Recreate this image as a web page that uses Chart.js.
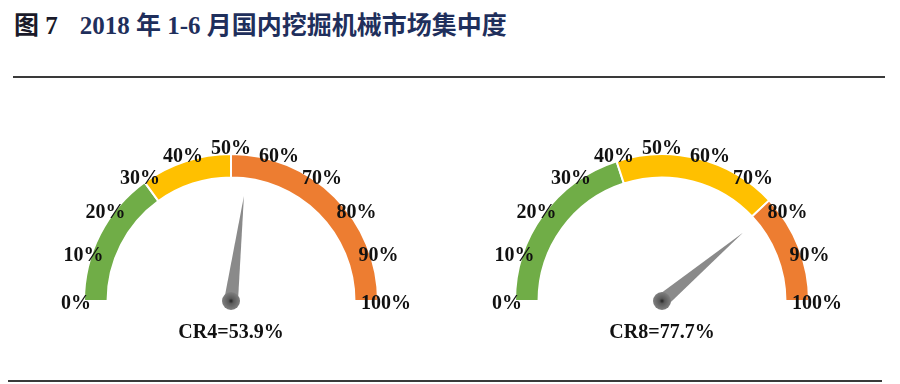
<!DOCTYPE html>
<html>
<head>
<meta charset="utf-8">
<script src="https://cdn.jsdelivr.net/npm/chart.js@4.4.1/dist/chart.umd.min.js"></script>
<style>
  body { margin: 0; background: #fff; width: 900px; height: 384px; position: relative; overflow: hidden; }
  #title { position: absolute; left: 14px; top: 5px; font: bold 25px "Liberation Serif", "Noto Sans CJK SC", serif; color: #1f2f5c; white-space: nowrap; }
  #title .fig { color: #1a1a2a; margin-right: 22px; }
  .rule { position: absolute; height: 2px; background: #3a3a3a; }
  .gauge { position: absolute; }
</style>
</head>
<body>
<div id="title"><span class="fig">图 7</span>2018 年 1-6 月国内挖掘机械市场集中度</div>
<div class="rule" style="left:13px; top:76px; width:872px;"></div>
<div class="rule" style="left:8px; top:380px; width:874px;"></div>
<div class="gauge" style="left:31px; top:130px; width:400px; height:230px;"><canvas id="g1"></canvas></div>
<div class="gauge" style="left:462px; top:130px; width:400px; height:230px;"><canvas id="g2"></canvas></div>

<script>
// 数据
const tickLabels = ["0%", "10%", "20%", "30%", "40%", "50%", "60%", "70%", "80%", "90%", "100%"];
const gaugeNames = ["CR4", "CR8"];
const gaugeValues = [53.9, 77.7];
const bandsCR4 = [30, 20, 50];   // 绿 / 黄 / 橙
const bandsCR8 = [40, 36, 24];
const bandColors = ["#70ad47", "#ffc000", "#ed7d31"];

// 刻度、指针和数值标签
const gaugePlugin = {
  id: "gaugeExtras",
  afterDatasetsDraw(chart, args, opts) {
    const arc = chart.getDatasetMeta(0).data[0];
    const cx = arc.x, cy = arc.y, r = arc.outerRadius;
    const ctx = chart.ctx;
    ctx.save();

    // 刻度文字
    ctx.fillStyle = "#111";
    ctx.font = "bold 20px 'Liberation Serif', serif";
    ctx.textAlign = "center";
    ctx.textBaseline = "middle";
    tickLabels.forEach((t, i) => {
      const a = Math.PI + Math.PI * i / (tickLabels.length - 1);
      const lr = r + 8;
      ctx.fillText(t, cx + lr * Math.cos(a), cy + lr * Math.sin(a) + 3);
    });

    // 指针
    const a = Math.PI + Math.PI * opts.value / 100;
    const len = r * 0.72, w = 7;
    const tx = cx + len * Math.cos(a), ty = cy + len * Math.sin(a);
    const px = -Math.sin(a) * w, py = Math.cos(a) * w;
    ctx.fillStyle = "#8a8a8a";
    ctx.beginPath();
    ctx.moveTo(cx + px, cy + py);
    ctx.lineTo(tx, ty);
    ctx.lineTo(cx - px, cy - py);
    ctx.closePath();
    ctx.fill();
    const grd = ctx.createRadialGradient(cx, cy, 0, cx, cy, 9);
    grd.addColorStop(0, "#222");
    grd.addColorStop(0.3, "#5a5a5a");
    grd.addColorStop(1, "#808080");
    ctx.fillStyle = grd;
    ctx.beginPath();
    ctx.arc(cx, cy, 9, 0, Math.PI * 2);
    ctx.fill();

    // 数值
    ctx.fillStyle = "#111";
    ctx.font = "bold 20px 'Liberation Serif', serif";
    ctx.fillText(opts.name + "=" + opts.value.toFixed(1) + "%", cx, cy + 32);
    ctx.restore();
  }
};

function makeGauge(id, bands, name, value) {
  new Chart(document.getElementById(id), {
    type: "doughnut",
    data: {
      labels: ["low", "mid", "high"],
      datasets: [{
        data: bands,
        backgroundColor: bandColors,
        borderColor: "#ffffff",
        borderWidth: 2
      }]
    },
    options: {
      responsive: true,
      maintainAspectRatio: false,
      animation: false,
      rotation: -90,
      circumference: 180,
      cutout: "84%",
      layout: { padding: { top: 23, bottom: 58, left: 51, right: 51 } },
      plugins: {
        legend: { display: false },
        tooltip: { enabled: false },
        gaugeExtras: { name: name, value: value }
      }
    },
    plugins: [gaugePlugin]
  });
}

makeGauge("g1", bandsCR4, gaugeNames[0], gaugeValues[0]);
makeGauge("g2", bandsCR8, gaugeNames[1], gaugeValues[1]);
</script>
</body>
</html>
